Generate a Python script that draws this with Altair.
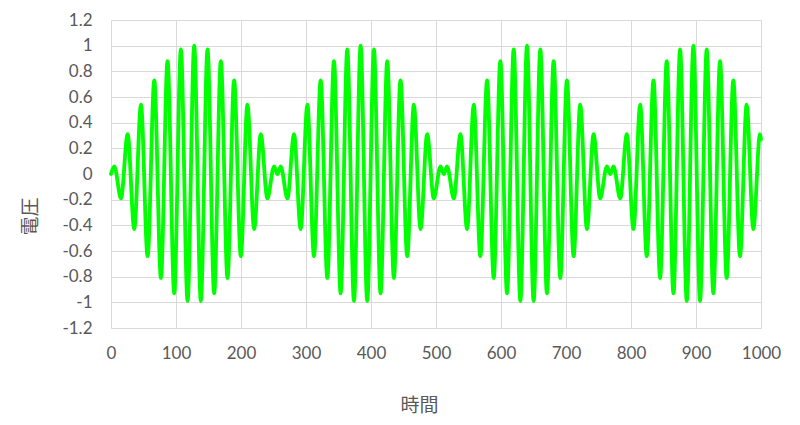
import altair as alt
import pandas as pd

# Extrema (and touching-zero points), lobe by lobe
lobe1_x = [0, 5.1, 15.4, 25.6, 35.8, 46.1, 56.3, 66.6, 76.8, 87.0, 97.3, 107.5, 117.8, 128.0,
           138.2, 148.5, 158.7, 169.0, 179.2, 189.4, 199.7, 209.9, 220.2, 230.4, 240.6, 250.9]
lobe1_y = [0, 0.06, -0.19, 0.31, -0.43, 0.54, -0.64, 0.73, -0.81, 0.88, -0.93, 0.97, -0.99, 1.0,
           -0.99, 0.97, -0.93, 0.88, -0.81, 0.73, -0.64, 0.54, -0.43, 0.31, -0.19, 0.06]

lobe2_x = [256.0, 261.1, 271.4, 281.6, 291.8, 302.1, 312.3, 322.6, 332.8, 343.0, 353.3, 363.5, 373.8, 384.0,
           394.2, 404.5, 414.7, 425.0, 435.2, 445.4, 455.7, 465.9, 476.2, 486.4, 496.6, 506.9]
lobe2_y = [0, 0.06, -0.19, 0.31, -0.43, 0.54, -0.64, 0.73, -0.81, 0.88, -0.93, 0.97, -0.99, 1.0,
           -0.99, 0.97, -0.93, 0.88, -0.81, 0.73, -0.64, 0.54, -0.43, 0.31, -0.19, 0.06]

lobe3_x = [512.0, 517.1, 527.4, 537.6, 547.8, 558.1, 568.3, 578.6, 588.8, 599.0, 609.3, 619.5, 629.8, 640.0,
           650.2, 660.5, 670.7, 681.0, 691.2, 701.4, 711.7, 721.9, 732.2, 742.4, 752.6, 762.9]
lobe3_y = [0, 0.06, -0.19, 0.31, -0.43, 0.54, -0.64, 0.73, -0.81, 0.88, -0.93, 0.97, -0.99, 1.0,
           -0.99, 0.97, -0.93, 0.88, -0.81, 0.73, -0.64, 0.54, -0.43, 0.31, -0.19, 0.06]

lobe4_x = [768.0, 773.1, 783.4, 793.6, 803.8, 814.1, 824.3, 834.6, 844.8, 855.0, 865.3, 875.5, 885.8, 896.0,
           906.2, 916.5, 926.7, 937.0, 947.2, 957.4, 967.7, 977.9, 988.2, 998.4, 1000.0]
lobe4_y = [0, 0.06, -0.19, 0.31, -0.43, 0.54, -0.64, 0.73, -0.81, 0.88, -0.93, 0.97, -0.99, 1.0,
           -0.99, 0.97, -0.93, 0.88, -0.81, 0.73, -0.64, 0.54, -0.43, 0.31, 0.27]

x_ticks = [0, 100, 200, 300, 400, 500, 600, 700, 800, 900, 1000]
y_ticks = [-1.2, -1.0, -0.8, -0.6, -0.4, -0.2, 0.0, 0.2, 0.4, 0.6, 0.8, 1.0, 1.2]

df = pd.DataFrame({
    "t": lobe1_x + lobe2_x + lobe3_x + lobe4_x,
    "v": lobe1_y + lobe2_y + lobe3_y + lobe4_y,
})

GRID = "#d9d9d9"
TXT = "#595959"

chart = alt.Chart(df).mark_line(
    color="#00FF00", strokeWidth=3.8, interpolate="monotone",
    strokeCap="round", strokeJoin="round"
).encode(
    x=alt.X("t:Q", scale=alt.Scale(domain=[0, 1000], nice=False, zero=False),
            axis=alt.Axis(values=x_ticks, title="時間", grid=True, gridColor=GRID,
                          domain=False, ticks=False, labelColor=TXT, labelFont="Lato",
                          labelFontSize=17, labelPadding=17, labelFlush=False, labelOverlap=False,
                          labelExpr="toString(round(datum.value))",
                          titleColor=TXT,
                          titleFont="Noto Sans CJK JP", titleFontSize=19, titleFontWeight="normal",
                          titleX=308, titleY=77, titleAlign="center", titleBaseline="middle")),
    y=alt.Y("v:Q", scale=alt.Scale(domain=[-1.2, 1.2], nice=False, zero=False),
            axis=alt.Axis(values=y_ticks, title="電圧", grid=True, gridColor=GRID,
                          domain=False, ticks=False, labelColor=TXT, labelFont="Lato",
                          labelFontSize=17, labelPadding=19, labelFlush=False, labelOverlap=False,
                          labelExpr="toString(round(datum.value*10)/10)",
                          titleColor=TXT, titleFont="Noto Sans CJK JP", titleFontSize=19,
                          titleFontWeight="normal", titleX=-81, titleY=196, titleAngle=270,
                          titleAlign="center", titleBaseline="middle")),
).properties(
    width=650, height=308,
    autosize=alt.AutoSizeParams(type="none"),
    padding={"left": 103, "top": 12, "right": 30, "bottom": 90},
    background="white",
).configure_view(stroke=None)

chart.save("out.html", embed_options={"renderer": "svg", "actions": False})
